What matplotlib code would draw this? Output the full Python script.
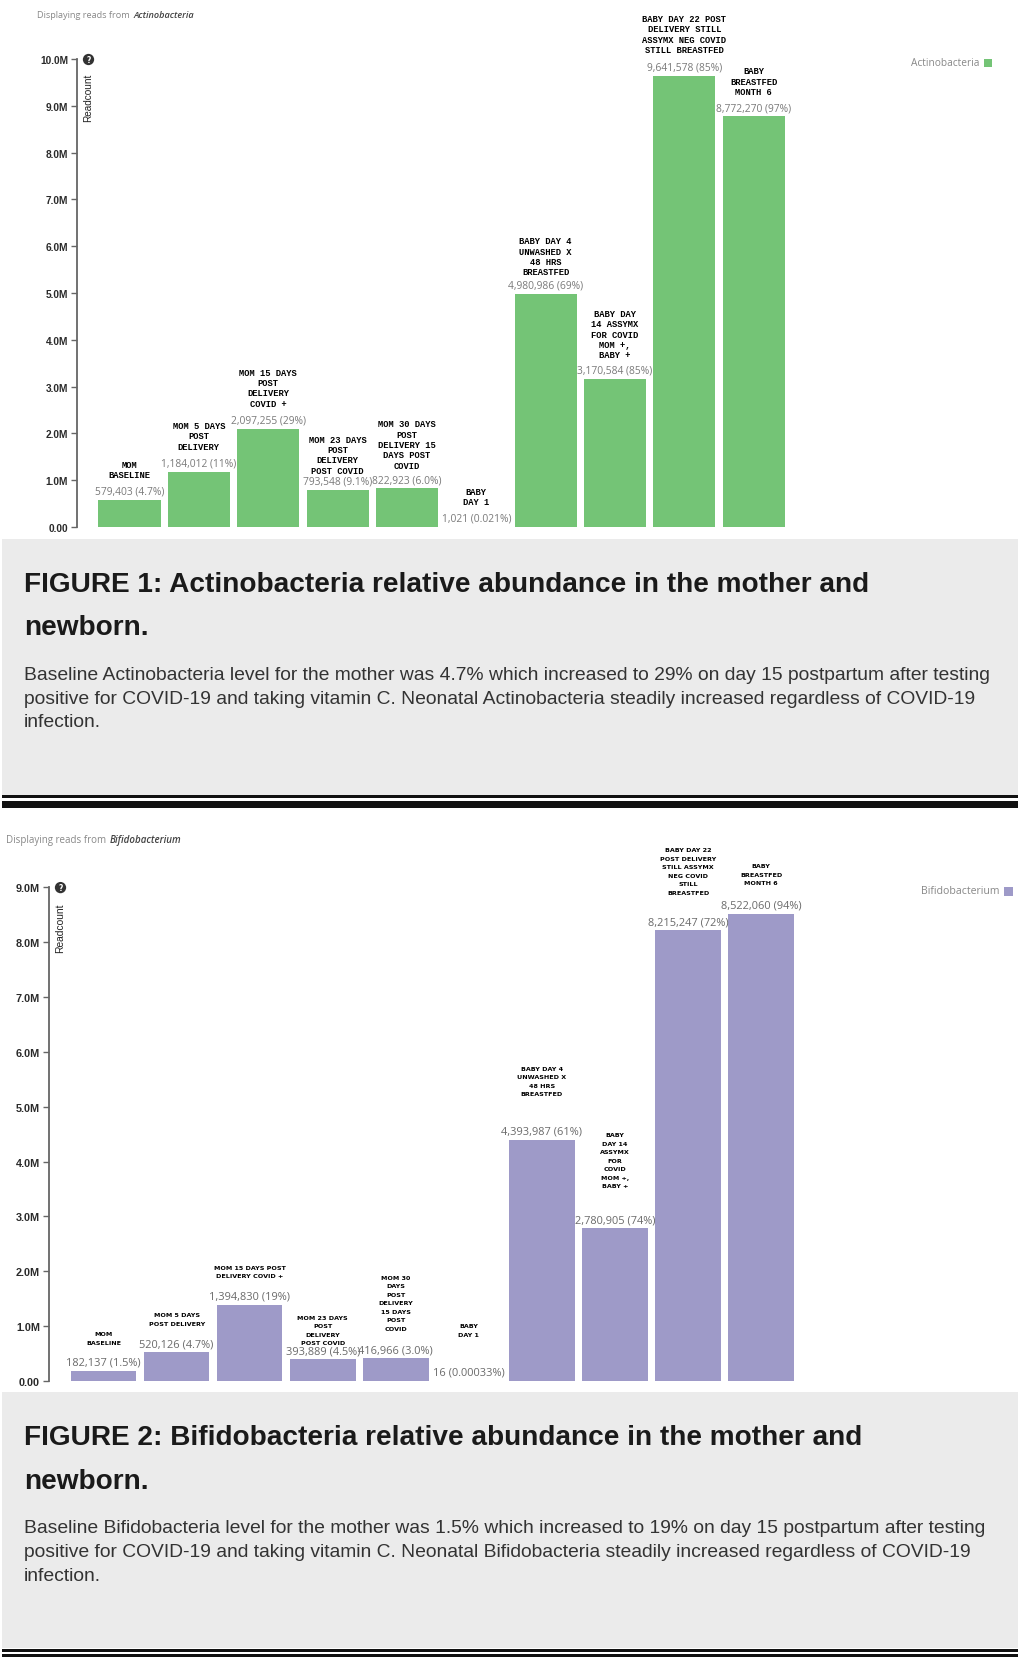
import matplotlib
matplotlib.use('Agg')
import matplotlib.pyplot as plt
from matplotlib.patches import Rectangle
from matplotlib.ticker import FuncFormatter
import numpy as np

W, H = 1018, 1658

# ---------------- DATA ----------------
act_categories = [
    "MOM\nBASELINE",
    "MOM 5 DAYS\nPOST\nDELIVERY",
    "MOM 15 DAYS\nPOST\nDELIVERY\nCOVID +",
    "MOM 23 DAYS\nPOST\nDELIVERY\nPOST COVID",
    "MOM 30 DAYS\nPOST\nDELIVERY 15\nDAYS POST\nCOVID",
    "BABY\nDAY 1",
    "BABY DAY 4\nUNWASHED X\n48 HRS\nBREASTFED",
    "BABY DAY\n14 ASSYMX\nFOR COVID\nMOM +,\nBABY +",
    "BABY DAY 22 POST\nDELIVERY STILL\nASSYMX NEG COVID\nSTILL BREASTFED",
    "BABY\nBREASTFED\nMONTH 6",
]
act_values = [579403, 1184012, 2097255, 793548, 822923, 1021, 4980986, 3170584, 9641578, 8772270]
act_percent = ["4.7%", "11%", "29%", "9.1%", "6.0%", "0.021%", "69%", "85%", "85%", "97%"]

bif_categories = [
    "MOM\nBASELINE",
    "MOM 5 DAYS\nPOST DELIVERY",
    "MOM 15 DAYS POST\nDELIVERY COVID +",
    "MOM 23 DAYS\nPOST\nDELIVERY\nPOST COVID",
    "MOM 30\nDAYS\nPOST\nDELIVERY\n15 DAYS\nPOST\nCOVID",
    "BABY\nDAY 1",
    "BABY DAY 4\nUNWASHED X\n48 HRS\nBREASTFED",
    "BABY\nDAY 14\nASSYMX\nFOR\nCOVID\nMOM +,\nBABY +",
    "BABY DAY 22\nPOST DELIVERY\nSTILL ASSYMX\nNEG COVID\nSTILL\nBREASTFED",
    "BABY\nBREASTFED\nMONTH 6",
]
bif_values = [182137, 520126, 1394830, 393889, 416966, 16, 4393987, 2780905, 8215247, 8522060]
bif_percent = ["1.5%", "4.7%", "19%", "4.5%", "3.0%", "0.00033%", "61%", "74%", "72%", "94%"]

act_caption_title = ["FIGURE 1: Actinobacteria relative abundance in the mother and", "newborn."]
act_caption_body = [
    "Baseline Actinobacteria level for the mother was 4.7% which increased to 29% on day 15 postpartum after testing",
    "positive for COVID-19 and taking vitamin C. Neonatal Actinobacteria steadily increased regardless of COVID-19",
    "infection.",
]
bif_caption_title = ["FIGURE 2: Bifidobacteria relative abundance in the mother and", "newborn."]
bif_caption_body = [
    "Baseline Bifidobacteria level for the mother was 1.5% which increased to 19% on day 15 postpartum after testing",
    "positive for COVID-19 and taking vitamin C. Neonatal Bifidobacteria steadily increased regardless of COVID-19",
    "infection.",
]

# ---------------- LAYOUT HELPERS ----------------
fig = plt.figure(figsize=(W / 100, H / 100), dpi=100)
fig.patch.set_facecolor('white')
renderer = fig.canvas.get_renderer()


def fx(x):
    return x / W


def fy(y):
    return 1 - y / H


def pt(px):
    return px * 72.0 / 100.0


def fit_text(x, y, s, target_w, base_fs=10, **kw):
    t = fig.text(fx(x), fy(y), s, fontsize=base_fs, **kw)
    w = t.get_window_extent(renderer).width
    fs = base_fs * target_w / w
    t.set_fontsize(fs)
    return fs


def ytick_fmt(v, pos):
    return "0.00" if v == 0 else f"{v / 1e6:.1f}M"


def draw_chart(box, first_center, step, width_frac, ymax, vals, cats, pcts, color,
               cat_family, cat_weight, cat_fs, cat_ls, val_fs, val_color, gaps, tick_fs):
    left, top, right, bottom = box
    ax = fig.add_axes([fx(left), fy(bottom), (right - left) / W, (bottom - top) / H])
    x = np.arange(len(vals))
    ax.bar(x, vals, width=width_frac, color=color, edgecolor='none')
    ax.set_xlim((left - first_center) / step, (right - first_center) / step)
    ax.set_ylim(0, ymax)
    for s in ['top', 'right', 'bottom']:
        ax.spines[s].set_visible(False)
    ax.spines['left'].set_color('#666666')
    ax.spines['left'].set_linewidth(1.3)
    ax.set_xticks([])
    ax.set_yticks(np.arange(0, ymax + 1, 1e6))
    ax.yaxis.set_major_formatter(FuncFormatter(ytick_fmt))
    ax.tick_params(axis='y', length=4, width=1, color='#666666', pad=2.5,
                   labelsize=tick_fs, labelcolor='#2a2a2a')
    for lab in ax.get_yticklabels():
        lab.set_family('Liberation Sans')
        lab.set_fontweight('bold')
    val_px = val_fs * 100 / 72
    cat_px = cat_fs * 100 / 72
    for i, (v, c, p, g) in enumerate(zip(vals, cats, pcts, gaps)):
        ax.annotate(f"{v:,} ({p})", (i, v), xytext=(0, pt(10 - 0.36 * val_px)),
                    textcoords='offset points', ha='center', va='baseline',
                    fontsize=val_fs, color=val_color, family='Open Sans',
                    annotation_clip=False)
        ax.annotate(c, (i, v), xytext=(0, pt(10 + g - 0.58 * cat_px)),
                    textcoords='offset points', ha='center', va='bottom',
                    fontsize=cat_fs, color='black', family=cat_family,
                    fontweight=cat_weight, linespacing=cat_ls, multialignment='center',
                    annotation_clip=False)
    return ax


def header(x, y, species, w1, w2):
    fs = fit_text(x, y, "Displaying reads from", w1, base_fs=8, family='Open Sans',
                  color='#888888', va='center', ha='left')
    t = fig.texts[-1]
    ext = t.get_window_extent(renderer)
    x2 = ext.x1 + 4
    fig.text(x2 / W, fy(y), species, fontsize=fs * 1.0, family='Open Sans', style='italic',
             fontweight='semibold', color='#444444', va='center', ha='left')


def axis_decor(xq, yq, yr, fs_r):
    fig.text(fx(xq), fy(yq), "?", fontsize=5.5, fontweight='bold', color='white',
             ha='center', va='center', family='DejaVu Sans',
             bbox=dict(boxstyle='circle,pad=0.15', fc='#333333', ec='none'))
    fig.text(fx(xq), fy(yr), "Readcount", rotation=90, fontsize=fs_r, color='#222222',
             ha='center', va='center', family='Liberation Sans')


def legend(x_right, y, label, color, fs, sq):
    fig.text(fx(x_right), fy(y), label, fontsize=fs, family='Open Sans', color='#888888',
             ha='right', va='center')
    fig.patches.append(Rectangle((fx(x_right + 5), fy(y + sq / 2)), sq / W, sq / H,
                                 transform=fig.transFigure, facecolor=color, edgecolor='none'))


def caption(box_top, box_bottom, title_lines, title_ys, body_lines, body_ys, line1, line2,
            title_fs, body_fs):
    fig.patches.append(Rectangle((fx(2), fy(box_bottom)), (W - 2) / W, (box_bottom - box_top) / H,
                                 transform=fig.transFigure, facecolor='#ebebeb', edgecolor='none'))
    for s, yy in zip(title_lines, title_ys):
        fig.text(fx(24), fy(yy), s, fontsize=title_fs, fontweight='bold', family='Liberation Sans',
                 color='#1a1a1a', ha='left', va='center')
    for s, yy in zip(body_lines, body_ys):
        fig.text(fx(24), fy(yy), s, fontsize=body_fs, family='Liberation Sans',
                 color='#333333', ha='left', va='center')
    for (y0, y1) in (line1, line2):
        fig.patches.append(Rectangle((fx(2), fy(y1)), (W - 2) / W, (y1 - y0) / H,
                                     transform=fig.transFigure, facecolor='#111111',
                                     edgecolor='none'))


# measure caption font sizes once
tmp = fig.text(0, 0, act_caption_title[0], fontsize=10, fontweight='bold', family='Liberation Sans')
title_fs = 10 * 846 / tmp.get_window_extent(renderer).width
tmp.remove()
tmp = fig.text(0, 0, act_caption_body[0], fontsize=10, family='Liberation Sans')
body_fs = 10 * 968 / tmp.get_window_extent(renderer).width
tmp.remove()

# ---------------- FIGURE 1 ----------------
green = '#74c476'
header(37, 15, "Actinobacteria", 94, 70)
draw_chart(box=(77, 60, 800, 528), first_center=129.5, step=69.36, width_frac=0.895,
           ymax=10e6, vals=act_values, cats=act_categories, pcts=act_percent, color=green,
           cat_family='Liberation Mono', cat_weight='bold', cat_fs=6.3, cat_ls=1.19,
           val_fs=7.4, val_color='#7a7a7a',
           gaps=[15.5, 16, 16.4, 10.4, 14, 16, 12.8, 14.5, 17, 15.6], tick_fs=7.3)
axis_decor(88.5, 60.5, 98, 7.2)
legend(979, 64, "Actinobacteria", green, 7.3, 8)
caption(540, 796, act_caption_title, [585, 628], act_caption_body, [676, 700, 723],
        (796, 799), (802, 809), title_fs, body_fs)

# ---------------- FIGURE 2 ----------------
purple = '#9e9ac8'
header(6, 841, "Bifidobacterium", 100, 83)
draw_chart(box=(49, 888.4, 820, 1382), first_center=103.6, step=73.06, width_frac=0.897,
           ymax=9e6, vals=bif_values, cats=bif_categories, pcts=bif_percent, color=purple,
           cat_family='DejaVu Sans', cat_weight='bold', cat_fs=4.6, cat_ls=1.87,
           val_fs=7.9, val_color='#6a6a6a',
           gaps=[20, 20.5, 20, 8, 21, 38, 37.6, 34, 29.6, 22], tick_fs=7.8)
axis_decor(60.5, 888.6, 928, 7.4)
legend(999, 892, "Bifidobacterium", purple, 7.6, 9)
caption(1393, 1649, bif_caption_title, [1438, 1482], bif_caption_body, [1529, 1553, 1577],
        (1650, 1652.5), (1655, 1658), title_fs, body_fs)

fig.savefig('out.png', dpi=100, facecolor='white')
